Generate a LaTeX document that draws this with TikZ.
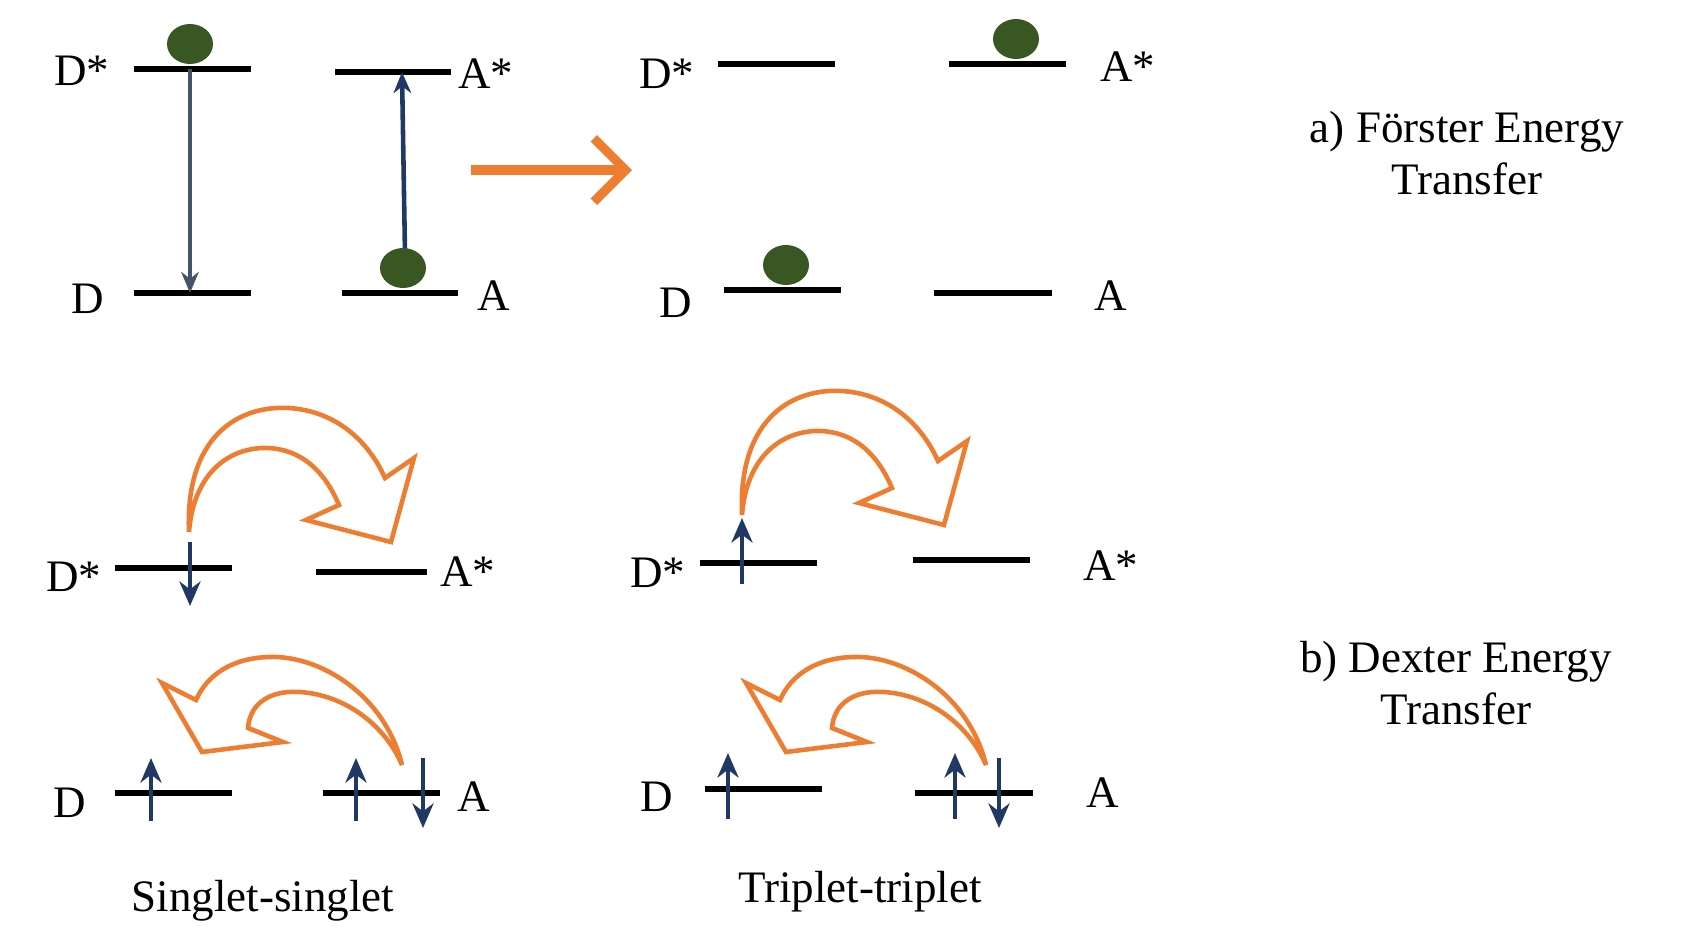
\documentclass[tikz,border=0pt]{standalone}
\usepackage{fontspec}
\setmainfont{Liberation Serif}
\usetikzlibrary{arrows.meta}
\definecolor{orng}{RGB}{237,125,49}
\definecolor{navy}{RGB}{31,56,100}
\definecolor{slate}{RGB}{68,84,106}
\definecolor{ball}{RGB}{56,87,35}
\begin{document}
\begin{tikzpicture}[x=0.01cm,y=-0.01cm,
  lvl/.style={line width=1.7pt},
  lab/.style={font=\fontsize{12.8}{15}\selectfont,inner sep=0pt},
  spin/.style={navy,line width=1.1pt,-{Stealth[length=7pt,width=6pt]}},
  ho/.style={orng,line width=1.3pt,line join=miter,fill=white},
  bl/.style={fill=ball}]
\useasboundingbox (0,0) rectangle (1708,936);
% ---- Forster left
\draw[lvl] (134,69) -- (251,69);
\draw[lvl] (134,293) -- (251,293);
\draw[lvl] (335,72) -- (451,72);
\draw[lvl] (342,293) -- (458,293);
\node[lab] (ld1) at (82,71) {D*};
\node[lab] (ld0) at (88,299) {D};
\node[lab] (la1) at (486,74) {A*};
\node[lab] (la0) at (494,296) {A};
\coordinate (e1) at (190,69); \coordinate (e0) at (190,293);
\draw[slate,line width=1.1pt,-{Stealth[length=6pt,width=5pt]}] (e1) -- (e0);
\coordinate (g0) at (405,254); \coordinate (g1) at (402,72);
\draw[navy,line width=1.3pt,-{Stealth[length=6pt,width=5pt]}] (g0) -- (g1);
\fill[bl] (190,44) ellipse (23 and 20);
\fill[bl] (403,268) ellipse (23 and 20);
\coordinate (o1) at (471,170); \coordinate (o2) at (632,170);
\draw[orng,line width=2.6pt,-{Straight Barb[length=9pt,width=18pt,line width=2.6pt]}] (o1) -- (o2);
% ---- Forster right
\draw[lvl] (718,64) -- (835,64);
\draw[lvl] (949,64) -- (1066,64);
\draw[lvl] (724,290) -- (841,290);
\draw[lvl] (934,293) -- (1052,293);
\node[lab] (rd1) at (667,74) {D*};
\node[lab] (ra1) at (1128,67) {A*};
\node[lab] (rd0) at (676,303) {D};
\node[lab] (ra0) at (1111,296) {A};
\fill[bl] (1016,39) ellipse (23 and 20);
\fill[bl] (786,265) ellipse (23 and 20);
\node[lab,align=center] (ta) at (1467,153) {a) Förster Energy\\Transfer};
\node[lab,align=center] (tb) at (1456,683) {b) Dexter Energy\\Transfer};
% ---- Dexter singlet
\draw[lvl] (115,568) -- (232,568);
\draw[lvl] (316,572) -- (427,572);
\draw[lvl] (115,793) -- (232,793);
\draw[lvl] (323,793) -- (440,793);
\node[lab] (sd1) at (74,577) {D*};
\node[lab] (sa1) at (468,572) {A*};
\node[lab] (sd0) at (70,803) {D};
\node[lab] (sa0) at (474,797) {A};
\node[lab] (st) at (263,901) {Singlet-singlet};
\coordinate (s1) at (190,542); \coordinate (s2) at (190,606);
\draw[spin] (s1) -- (s2);
\coordinate (s3) at (151,821); \coordinate (s4) at (151,758);
\draw[spin] (s3) -- (s4);
\coordinate (s5) at (356,821); \coordinate (s6) at (356,758);
\draw[spin] (s5) -- (s6);
\coordinate (s7) at (423,758); \coordinate (s8) at (423,828);
\draw[spin] (s7) -- (s8);
\tikzset{
 curvea/.pic={\draw[ho] (189,532) .. controls (185,440) and (235,405) .. (289,408) .. controls (335,411) and (368,440) .. (385,478) -- (414,458) -- (391,542) -- (306,520) -- (339,505) .. controls (322,465) and (295,447) .. (262,448) .. controls (222,450) and (193,480) .. (189,532) -- cycle;},
 curveb/.pic={\draw[ho] (402,765) .. controls (385,695) and (320,655) .. (269,657) .. controls (232,658) and (207,675) .. (196,700) -- (162,683) -- (202,752) -- (283,742) -- (248,728) .. controls (250,702) and (272,690) .. (300,692) .. controls (345,695) and (385,725) .. (402,765) -- cycle;}}
\pic (ca) at (0,0) {curvea};
\pic (cb) at (0,0) {curveb};
% ---- Dexter triplet
\draw[lvl] (700,563) -- (817,563);
\draw[lvl] (913,560) -- (1030,560);
\draw[lvl] (705,789) -- (822,789);
\draw[lvl] (915,793) -- (1033,793);
\node[lab] (td1) at (658,573) {D*};
\node[lab] (ta1) at (1111,566) {A*};
\node[lab] (td0) at (657,797) {D};
\node[lab] (ta0) at (1103,793) {A};
\node[lab] (tt) at (860,892) {Triplet-triplet};
\coordinate (t1) at (742,584); \coordinate (t2) at (742,518);
\draw[spin] (t1) -- (t2);
\coordinate (t3) at (728,819); \coordinate (t4) at (728,753);
\draw[spin] (t3) -- (t4);
\coordinate (t5) at (955,819); \coordinate (t6) at (955,753);
\draw[spin] (t5) -- (t6);
\coordinate (t7) at (999,758); \coordinate (t8) at (999,828);
\draw[spin] (t7) -- (t8);
\pic (cc) at (553,-17) {curvea};
\pic (cd) at (584,0) {curveb};
\end{tikzpicture}
\end{document}
